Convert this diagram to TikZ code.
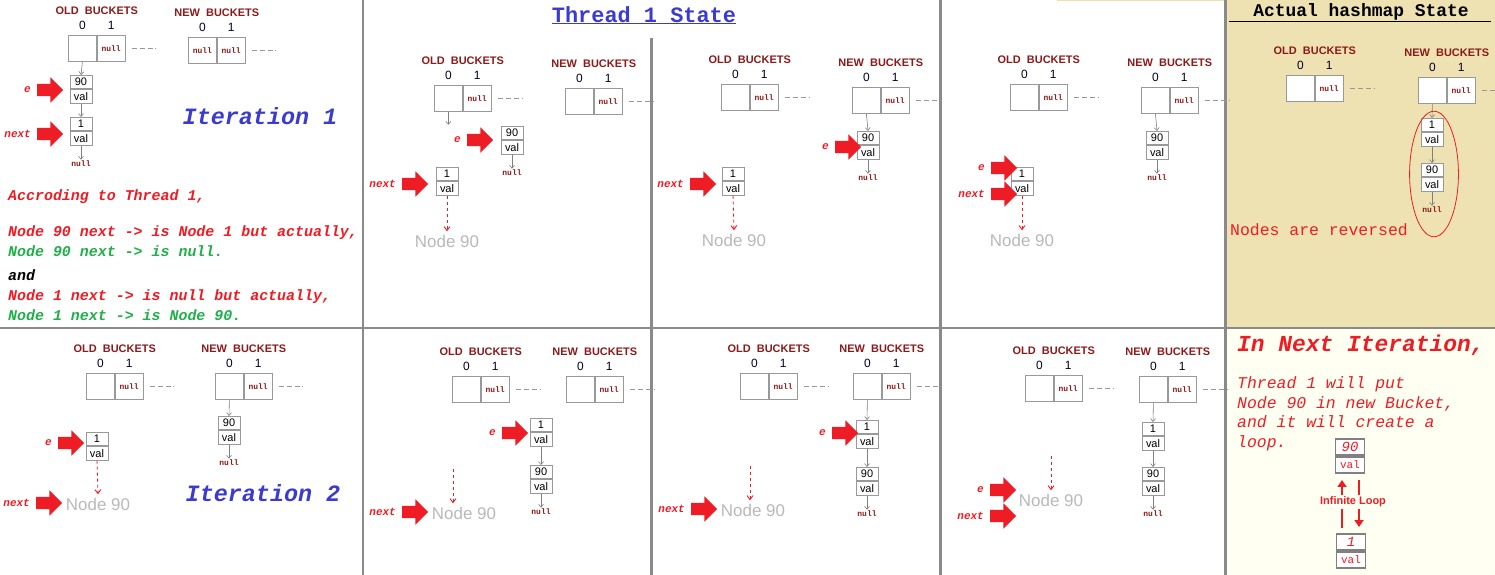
\documentclass[tikz,border=0pt]{standalone}
\usepackage{fontspec}
\setmainfont{Liberation Sans}
\newfontfamily\mono{Liberation Mono}
\usetikzlibrary{calc,shapes.arrows,shapes.geometric,arrows.meta}
\definecolor{dred}{HTML}{8B1A1A}
\definecolor{bred}{HTML}{EE1C24}
\definecolor{tblue}{HTML}{3B3BD0}
\definecolor{tgreen}{HTML}{1FB04A}
\definecolor{beige}{HTML}{EFE2B2}
\definecolor{cream}{HTML}{FFFFF2}
\definecolor{gridc}{HTML}{8A8A8A}
\tikzset{
 cell/.style={draw=gray!80,fill=white,line width=0.9pt,minimum width=28,minimum height=26,inner sep=0,font=\mono\bfseries\fontsize{8}{9}\selectfont,text=dred},
 bkt/.style={font=\bfseries\fontsize{11}{12}\selectfont,text=dred},
 dig/.style={font=\fontsize{12}{13}\selectfont,text=black!85!blue},
 dashln/.style={draw=gray!80,line width=1.3pt,dash pattern=on 5pt off 3pt},
 kbox/.style={draw=gray!80,fill=white,line width=0.9pt,minimum width=22,minimum height=13.5,inner sep=0,font=\fontsize{11}{12}\selectfont},
 nullt/.style={font=\mono\bfseries\fontsize{8}{9}\selectfont,text=dred,inner sep=1},
 sarr/.style={draw=gray,line width=0.6pt,-{Straight Barb[length=3pt,width=5pt]}},
 bigarr/.style={single arrow,fill=bred,draw=none,minimum height=26,minimum width=25,inner sep=6,single arrow head extend=6.5},
 ptrlab/.style={font=\mono\bfseries\itshape\fontsize{11}{12}\selectfont,text=bred,inner sep=1},
 ghost/.style={font=\fontsize{17}{18}\selectfont,text=gray!55},
 rdash/.style={draw=bred,line width=0.9pt,dashed,-{Straight Barb[length=4pt,width=6pt]}},
 grid/.style={draw=gridc,line width=3pt},
 ttl/.style={font=\mono\bfseries\itshape\fontsize{23.5}{25}\selectfont,text=tblue},
 txt/.style={font=\mono\bfseries\itshape\fontsize{15}{17}\selectfont,anchor=west,inner sep=0},
}
\newcommand\Bk[6]{%
 \node[cell,anchor=north west] (#1a) at (#2,#3) {#5};
 \node[cell,anchor=north west] (#1b) at (#1a.north east) {#6};
 \node[bkt] (#1t) at ($(#1a.north east)+(0,-24)$) {#4};
 \node[dig] (#1x) at ($(#1a.north)+(0,-10)$) {0};
 \node[dig] (#1y) at ($(#1b.north)+(0,-10)$) {1};
 \coordinate (#1e) at ($(#1b.east)+(30,0)$);
 \draw[dashln] ($(#1b.east)+(6,0)$) -- (#1e);}
\newcommand\Kn[4]{%
 \node[kbox,anchor=north] (#1k) at (#2,#3) {#4};
 \node[kbox,anchor=north] (#1v) at (#1k.south) {val};}
\newcommand\Nl[2]{%
 \node[nullt,anchor=north] (#1) at ($(#2.south)+(0,14)$) {null};
 \draw[sarr] (#2.south) -- (#1.north);}
\newcommand\Ptr[4]{%
 \node[bigarr] (#1) at (#2,#3) {};
 \node[ptrlab,anchor=east] (#1l) at ($(#1.west)+(-5,0)$) {#4};}
\begin{document}
\begin{tikzpicture}[x=1bp,y=-1bp]
\useasboundingbox (0,0) rectangle (1495,575);
\fill[white] (0,0) rectangle (1495,575);
\fill[beige] (1225,0) rectangle (1495,328);
\fill[cream] (1225,328) rectangle (1495,575);
\draw[beige,line width=1pt] (1057,0.5) -- (1225,0.5);
% grid
\draw[grid] (0,328) -- (1495,328);
\draw[grid] (363,0) -- (363,575);
\draw[grid] (651,38) -- (651,575);
\draw[grid] (940,0) -- (940,575);
\draw[grid] (1225,0) -- (1225,575);
\node[font=\mono\bfseries\fontsize{22}{24}\selectfont,text=tblue] (title) at (644,15) {Thread 1 State};
\draw[tblue,line width=1.2pt] (title.south west)++(4,-3) -- ($(title.south east)+(-4,-3)$);

% ===== Panel TL
\Bk{pa}{68}{35}{OLD\ \ BUCKETS}{}{null}
\Bk{pb}{188}{37}{NEW\ \ BUCKETS}{null}{null}
\Kn{pa1}{81}{75}{90}
\Kn{pa2}{81}{117}{1}
\draw[sarr] (paa.south) -- (pa1k.north);
\draw[sarr] (pa1v.south) -- (pa2k.north);
\Nl{pan}{pa2v}
\Ptr{pae}{47}{90}{e}
\Ptr{pax}{47}{134}{next}
\node[ttl] (it1) at (260,116) {Iteration 1};
\node[txt,text=bred] (l1) at (8,197) {Accroding to Thread 1,};
\node[txt,text=bred] (l2) at (8,233) {Node 90 next -> is Node 1 but actually,};
\node[txt,text=tgreen] (l3) at (8,251) {Node 90 next -> is null.};
\node[txt,text=black] (l4) at (8,275) {and};
\node[txt,text=bred] (l5) at (8,297) {Node 1 next -> is null but actually,};
\node[txt,text=tgreen] (l6) at (8,315) {Node 1 next -> is Node 90.};

% ===== Panel T2
\Bk{qa}{434}{85}{OLD\ \ BUCKETS}{}{null}
\Bk{qb}{565}{88}{NEW\ \ BUCKETS}{}{null}
\coordinate (qaf) at ($(qaa.south)+(0,13)$);
\draw[sarr] (qaa.south) -- (qaf);
\Kn{qa1}{512}{126}{90}
\Nl{qan}{qa1v}
\Ptr{qae}{477}{140}{e}
\Kn{qa2}{447}{167}{1}
\Ptr{qax}{412}{184}{next}
\node[ghost] (qg) at (447,241) {Node 90};
\draw[rdash] (qa2v.south) -- (qg.north);

% ===== Panel T3
\Bk{ra}{721}{84}{OLD\ \ BUCKETS}{}{null}
\Bk{rb}{852}{87}{NEW\ \ BUCKETS}{}{null}
\Kn{ra1}{868}{131}{90}
\draw[sarr] (rba.south) -- (ra1k.north);
\Nl{ran}{ra1v}
\Ptr{rae}{845}{147}{e}
\Kn{ra2}{733}{167}{1}
\Ptr{rax}{700}{184}{next}
\node[ghost] (rg) at (734,240) {Node 90};
\draw[rdash] (ra2v.south) -- (rg.north);

% ===== Panel T4
\Bk{sa}{1010}{84}{OLD\ \ BUCKETS}{}{null}
\Bk{sb}{1141}{87}{NEW\ \ BUCKETS}{}{null}
\Kn{sa1}{1157}{131}{90}
\draw[sarr] (sba.south) -- (sa1k.north);
\Nl{san}{sa1v}
\Kn{sa2}{1022}{167}{1}
\Ptr{sae}{1001}{168}{e}
\Ptr{sax}{1001}{194}{next}
\node[ghost] (sg) at (1022,240) {Node 90};
\draw[rdash] (sa2v.south) -- (sg.north);

% ===== Actual state
\node[font=\mono\bfseries\fontsize{18}{20}\selectfont] (act) at (1361,12) {Actual hashmap State};
\draw[line width=1pt] (1229,22) -- (1491,22);
\Bk{ta}{1286}{75}{OLD\ \ BUCKETS}{}{null}
\Bk{tb}{1418}{77}{NEW\ \ BUCKETS}{}{null}
\Kn{ta1}{1432}{118}{1}
\Kn{ta2}{1432}{163}{90}
\draw[sarr] (tba.south) -- (ta1k.north);
\draw[sarr] (ta1v.south) -- (ta2k.north);
\Nl{tan}{ta2v}
\node[ellipse,draw=bred,line width=0.8pt,minimum width=49,minimum height=126] (ell) at (1434,174) {};
\node[font=\mono\fontsize{16.5}{18}\selectfont,text=bred,anchor=west,inner sep=0] (rev) at (1230,230) {Nodes are reversed};

% ===== Panel BL
\Bk{ua}{86}{373}{OLD\ \ BUCKETS}{}{null}
\Bk{ub}{215}{373}{NEW\ \ BUCKETS}{}{null}
\Kn{ub1}{229}{416}{90}
\draw[sarr] (uba.south) -- (ub1k.north);
\Nl{ubn}{ub1v}
\Kn{ua1}{97}{432}{1}
\Ptr{uae}{68}{443}{e}
\node[ghost] (ug) at (98,504) {Node 90};
\draw[rdash] (ua1v.south) -- (ug.north);
\Ptr{uax}{46}{503}{next}
\node[ttl] (it2) at (263,493) {Iteration 2};

% ===== Panel B2
\Bk{va}{452}{376}{OLD\ \ BUCKETS}{}{null}
\Bk{vb}{566}{376}{NEW\ \ BUCKETS}{}{null}
\Kn{va1}{541}{418}{1}
\Kn{va2}{541}{465}{90}
\draw[sarr] (va1v.south) -- (va2k.north);
\Nl{van}{va2v}
\Ptr{vae}{512}{433}{e}
\node[ghost] (vg) at (464,513) {Node 90};
\coordinate (vs) at (453,469);
\draw[rdash] (vs) -- (vs |- vg.north);
\Ptr{vax}{412}{512}{next}

% ===== Panel B3
\Bk{wa}{740}{373}{OLD\ \ BUCKETS}{}{null}
\Bk{wb}{853}{373}{NEW\ \ BUCKETS}{}{null}
\Kn{wb1}{867}{420}{1}
\Kn{wb2}{867}{467}{90}
\draw[sarr] (wba.south) -- (wb1k.north);
\draw[sarr] (wb1v.south) -- (wb2k.north);
\Nl{wbn}{wb2v}
\Ptr{wae}{842}{433}{e}
\node[ghost] (wg) at (753,510) {Node 90};
\coordinate (ws) at (750,466);
\draw[rdash] (ws) -- (ws |- wg.north);
\Ptr{wax}{701}{509}{next}

% ===== Panel B4
\Bk{xa}{1025}{375}{OLD\ \ BUCKETS}{}{null}
\Bk{xb}{1139}{376}{NEW\ \ BUCKETS}{}{null}
\Kn{xb1}{1153}{422}{1}
\Kn{xb2}{1153}{467}{90}
\draw[sarr] (xba.south) -- (xb1k.north);
\draw[sarr] (xb1v.south) -- (xb2k.north);
\Nl{xbn}{xb2v}
\node[ghost] (xg) at (1051,500) {Node 90};
\coordinate (xs) at (1051,456);
\draw[rdash] (xs) -- (xg.north);
\Ptr{xae}{1000}{490}{e}
\Ptr{xax}{1000}{516}{next}

% ===== Next iteration
\node[font=\mono\bfseries\itshape\fontsize{23}{25}\selectfont,text=bred,anchor=west,inner sep=0] (nxt) at (1237,345) {In Next Iteration,};
\node[text=bred,align=left,anchor=north west,inner sep=0,font=\mono\itshape\fontsize{16.5}{20}\selectfont] (nt) at (1237,376) {Thread 1 will put\\Node 90 in new Bucket,\\and it will create a\\loop.};
\tikzset{lbox/.style={draw=gray,line width=1.6pt,minimum width=29,minimum height=16.5,inner sep=0,text=bred,fill=white}}
\node[lbox,anchor=north,font=\mono\itshape\fontsize{14}{15}\selectfont] (y1k) at (1350,438) {90};
\node[lbox,anchor=north,font=\mono\fontsize{11}{12}\selectfont] (y1v) at (y1k.south) {val};
\node[lbox,anchor=north,font=\mono\itshape\fontsize{14}{15}\selectfont] (y2k) at (1351,533) {1};
\node[lbox,anchor=north,font=\mono\fontsize{11}{12}\selectfont] (y2v) at (y2k.south) {val};
\draw[bred,line width=2.2pt,-{Triangle[length=7pt,width=9pt]}] (1342,528) -- (1342,480);
\draw[bred,line width=2.2pt,-{Triangle[length=7pt,width=9pt]}] (1359,480) -- (1359,527);
\node[fill=cream,inner sep=1.5,font=\bfseries\fontsize{11}{12}\selectfont,text=bred] (inf) at (1353,502) {Infinite Loop};
\end{tikzpicture}
\end{document}
